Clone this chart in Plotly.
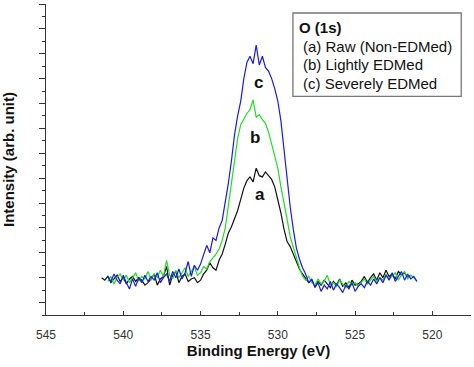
import plotly.graph_objects as go

# Binding energy grid (eV), 0.2 eV steps from 541.4 down to 521.0
energy = [541.4, 541.2, 541.0, 540.8, 540.6, 540.4, 540.2, 540.0, 539.8, 539.6,
          539.4, 539.2, 539.0, 538.8, 538.6, 538.4, 538.2, 538.0, 537.8, 537.6,
          537.4, 537.2, 537.0, 536.8, 536.6, 536.4, 536.2, 536.0, 535.8, 535.6,
          535.4, 535.2, 535.0, 534.8, 534.6, 534.4, 534.2, 534.0, 533.8, 533.6,
          533.4, 533.2, 533.0, 532.8, 532.6, 532.4, 532.2, 532.0, 531.8, 531.6,
          531.4, 531.2, 531.0, 530.8, 530.6, 530.4, 530.2, 530.0, 529.8, 529.6,
          529.4, 529.2, 529.0, 528.8, 528.6, 528.4, 528.2, 528.0, 527.8, 527.6,
          527.4, 527.2, 527.0, 526.8, 526.6, 526.4, 526.2, 526.0, 525.8, 525.6,
          525.4, 525.2, 525.0, 524.8, 524.6, 524.4, 524.2, 524.0, 523.8, 523.6,
          523.4, 523.2, 523.0, 522.8, 522.6, 522.4, 522.2, 522.0, 521.8, 521.6,
          521.4, 521.2, 521.0]

# (a) Raw (Non-EDMed): 541.4 -> 521.4
energy_a = energy[0:101]
raw_a = [3.0, 2.8, 3.1, 2.6, 2.9, 3.2, 2.7, 3.0, 2.5, 2.9,
         3.1, 2.7, 3.0, 2.8, 2.4, 2.6, 2.9, 3.3, 2.4, 2.9,
         3.1, 3.9, 2.4, 3.2, 3.5, 2.6, 3.1, 3.3, 2.7, 2.9,
         3.0, 2.6,
         2.8, 3.3, 3.6, 4.2, 3.8, 3.6, 4.4, 4.9, 5.7, 6.6,
         7.1, 7.8, 8.4, 9.3, 10.2, 10.8, 11.1, 10.7, 11.8, 11.2,
         11.1, 11.5, 11.2, 10.9, 10.3, 9.3, 8.2, 6.9, 5.9, 5.5,
         4.9, 4.4, 3.7, 3.3, 2.9, 2.6, 2.8,
         2.3, 2.7, 2.4, 2.8, 2.5, 2.2, 2.7, 2.4, 2.9, 2.3,
         2.6, 2.2, 2.8, 2.4, 2.5,
         2.7, 3.1, 2.6, 3.0, 3.3, 2.8, 3.4, 3.0, 3.6, 3.1,
         3.3, 2.9, 3.5, 3.2, 3.4, 3.0, 3.2]

# (b) Lightly EDMed: 541.0 -> 521.0
energy_b = energy[2:103]
light_b = [2.7, 3.1, 2.5, 3.0, 3.3, 2.8, 3.2, 2.6, 3.0, 3.4,
           2.7, 3.1, 2.9, 3.5, 2.8, 3.3, 3.0, 3.6, 3.1, 4.4,
           3.2, 2.9, 3.6, 3.0, 3.4, 3.8, 3.1, 3.5, 3.9, 3.2,
           3.4, 3.9, 3.7, 4.3, 4.6, 4.9, 5.3, 6.0, 7.0, 8.7,
           10.4, 12.3, 14.2, 15.3, 15.8, 16.2, 16.5, 17.3, 15.9, 16.1,
           15.7, 15.4, 14.7, 13.8, 12.9, 11.8, 10.3, 9.1, 7.7, 6.3,
           5.4, 4.5, 3.8, 3.1, 2.8, 3.1, 2.6,
           2.4, 2.9, 2.5, 2.7, 3.2, 2.4, 2.6, 2.3, 2.8, 2.5,
           2.2, 2.7, 2.4, 2.6, 2.3,
           2.6, 2.9, 2.5, 2.8, 3.1, 2.7, 3.0, 2.8, 3.3, 2.9,
           3.1, 3.4, 2.8, 3.2, 3.5, 2.9, 3.2, 3.0, 2.7]

# (c) Severely EDMed: 541.0 -> 521.0
energy_c = energy[2:103]
severe_c = [3.1, 2.7, 3.3, 2.8, 2.5, 3.2, 2.6, 2.1, 2.9, 2.3,
            3.0, 2.6, 3.2, 2.7, 3.1, 2.8, 3.4, 2.6, 3.0, 3.3,
            2.7, 3.5, 3.0, 3.7, 2.9, 3.4, 4.3, 3.1, 4.0, 3.6,
            4.1, 4.8, 5.6, 5.0, 6.2, 6.0, 7.0, 7.6, 9.0, 10.6,
            12.4, 14.5, 16.0, 17.2, 19.0, 20.3, 20.8, 20.2, 21.7, 20.1,
            20.8, 19.9, 19.6, 19.0, 18.2, 17.2, 15.6, 13.3, 10.9, 8.7,
            6.9, 5.4, 4.5, 3.8, 3.3, 2.6, 2.9,
            2.2, 2.6, 1.9, 2.4, 2.1, 2.7, 2.0, 2.5, 2.2, 1.8,
            2.4, 2.1, 2.6, 1.9, 2.3,
            2.5, 2.2, 2.7, 2.4, 2.9, 2.5, 3.0, 2.6, 3.2, 2.8,
            3.4, 2.7, 3.1, 3.5, 2.8, 3.3, 2.9, 3.1, 2.7]

x_ticks = [545, 540, 535, 530, 525, 520]
legend_title = "O (1s)"
legend_lines = ["(a) Raw (Non-EDMed)", "(b) Lightly EDMed", "(c) Severely EDMed"]
curve_labels = ["a", "b", "c"]
label_pos = [(531.13, 9.7), (531.45, 14.3), (531.26, 18.7)]

FONT = "Liberation Sans, Arial, sans-serif"

fig = go.Figure()
fig.add_trace(go.Scatter(x=energy_a, y=raw_a, mode="lines",
                         line=dict(color="#111111", width=1.2), showlegend=False))
fig.add_trace(go.Scatter(x=energy_b, y=light_b, mode="lines",
                         line=dict(color="#22dd22", width=1.2), showlegend=False))
fig.add_trace(go.Scatter(x=energy_c, y=severe_c, mode="lines",
                         line=dict(color="#1a1aee", width=1.2), showlegend=False))

for txt, (ex, vy) in zip(curve_labels, label_pos):
    fig.add_annotation(x=ex, y=vy, xref="x", yref="y", text="<b>%s</b>" % txt,
                       showarrow=False, font=dict(family=FONT, size=17, color="#111"))

# legend box
fig.add_shape(type="rect", xref="paper", yref="paper", x0=0.581, x1=0.977,
              y0=0.703, y1=0.971, line=dict(color="#777777", width=1.3),
              fillcolor="white", layer="below")
fig.add_annotation(x=0.5905, y=0.923, xref="paper", yref="paper",
                   text="<b>%s</b>" % legend_title, showarrow=False,
                   xanchor="left", yanchor="middle",
                   font=dict(family=FONT, size=15, color="#111"))
for i, line in enumerate(legend_lines):
    fig.add_annotation(x=0.6, y=[0.864, 0.805, 0.744][i], xref="paper", yref="paper",
                       text=line, showarrow=False, xanchor="left", yanchor="middle",
                       font=dict(family=FONT, size=15, color="#111"))

fig.update_layout(
    width=474, height=367,
    margin=dict(l=46, r=3, t=4, b=52),
    plot_bgcolor="white", paper_bgcolor="white",
    font=dict(family=FONT, color="#222"),
    xaxis=dict(range=[545, 517.5], tickvals=x_ticks, ticks="inside", ticklen=4,
               tickwidth=1, tickcolor="#333",
               minor=dict(dtick=2.5, tick0=545, ticks="inside", ticklen=3, tickcolor="#333"),
               showline=True, linecolor="#333", linewidth=1.3, showgrid=False,
               zeroline=False, tickfont=dict(size=12, color="#333"),
               ticklabelstandoff=8,
               title=dict(text="<b>Binding Energy (eV)</b>", font=dict(size=15, color="#111"),
                          standoff=0)),
    yaxis=dict(range=[0, 25], showticklabels=False, ticks="outside", tick0=1, dtick=2,
               ticklen=6, tickwidth=1, tickcolor="#333",
               minor=dict(dtick=1, tick0=0, ticks="outside", ticklen=3, tickcolor="#333"),
               showline=True, linecolor="#333", linewidth=1.3, showgrid=False,
               zeroline=False,
               title=dict(text="<b>Intensity (arb. unit)</b>", font=dict(size=15, color="#111"),
                          standoff=20)),
)

fig.write_html("out.html", config={"displayModeBar": False, "staticPlot": True},
               post_script="document.body.style.margin='0';document.body.style.overflow='hidden';")
